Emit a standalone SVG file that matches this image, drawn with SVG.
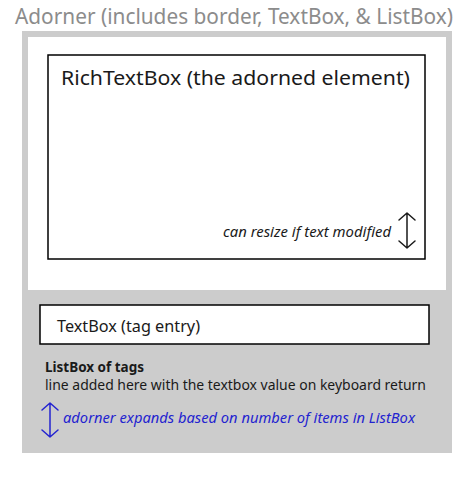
<svg xmlns="http://www.w3.org/2000/svg" width="473" height="485" viewBox="0 0 473 485">
  <defs>
    <style>
      .t { font-family: "Noto Sans", "Open Sans", sans-serif; }
      .box { fill: #ffffff; stroke: #000000; stroke-width: 1.5; }
      .arr { fill: none; stroke-width: 1.5; stroke-linecap: round; stroke-linejoin: round; }
    </style>
  </defs>
  <rect width="473" height="485" fill="#ffffff"/>
  <text class="t" x="15" y="24" font-size="21" fill="#8c8c8c" textLength="438" lengthAdjust="spacingAndGlyphs">Adorner (includes border, TextBox, &amp; ListBox)</text>
  <g id="adorner">
    <rect x="22" y="31" width="430" height="422" fill="#cccccc"/>
    <rect x="28" y="37" width="418" height="253" fill="#ffffff"/>
  </g>
  <g id="richtextbox">
    <rect class="box" x="48" y="55" width="377" height="204"/>
    <text class="t" x="61" y="85" font-size="20.5" fill="#1a1a1a" textLength="349" lengthAdjust="spacingAndGlyphs">RichTextBox (the adorned element)</text>
    <text class="t" x="223" y="237" font-size="14.5" font-style="italic" fill="#1a1a1a" textLength="168" lengthAdjust="spacingAndGlyphs">can resize if text modified</text>
  </g>
  <g id="textbox">
    <rect class="box" x="40" y="305" width="389" height="39"/>
    <text class="t" x="57" y="332" font-size="17" fill="#1a1a1a" textLength="143" lengthAdjust="spacingAndGlyphs">TextBox (tag entry)</text>
  </g>
  <g id="listbox">
    <text class="t" x="45" y="372" font-size="15" font-weight="bold" fill="#1a1a1a" textLength="99" lengthAdjust="spacingAndGlyphs">ListBox of tags</text>
    <text class="t" x="45" y="390" font-size="15" fill="#1a1a1a" textLength="381" lengthAdjust="spacingAndGlyphs">line added here with the textbox value on keyboard return</text>
    <text class="t" x="63" y="423" font-size="15" font-style="italic" fill="#2323d0" textLength="352" lengthAdjust="spacingAndGlyphs">adorner expands based on number of items in ListBox</text>
  </g>
  <g id="connectors">
    <path class="arr" stroke="#1a1a1a" d="M407 213 V248 M399 220 L407 213 L415 220 M399 241 L407 248 L415 241"/>
    <path class="arr" stroke="#2323d0" d="M50 403 V437 M42 410 L50 403 L58 410 M42 430 L50 437 L58 430"/>
  </g>
</svg>
